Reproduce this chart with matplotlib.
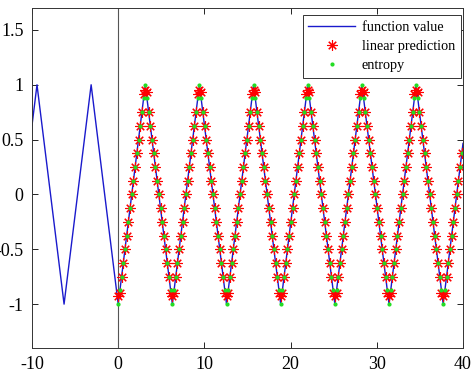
import numpy as np
import matplotlib
matplotlib.use("Agg")
import matplotlib.pyplot as plt

plt.rcParams['font.family'] = ['Liberation Serif', 'DejaVu Serif']
plt.rcParams['axes.unicode_minus'] = False

# left part: function value only (corner points of the triangle wave)
x_left = [-10, -9.42, -6.28, -3.14]
y_left = [0.63, 1.0, -1.0, 1.0]

step = np.pi / 16
y_right = [
    -1, -0.875, -0.75, -0.625, -0.5, -0.375, -0.25, -0.125, 0, 0.125, 0.25, 0.375, 0.5, 0.625, 0.75, 0.875,
    1, 0.875, 0.75, 0.625, 0.5, 0.375, 0.25, 0.125, 0, -0.125, -0.25, -0.375, -0.5, -0.625, -0.75, -0.875,
    -1, -0.875, -0.75, -0.625, -0.5, -0.375, -0.25, -0.125, 0, 0.125, 0.25, 0.375, 0.5, 0.625, 0.75, 0.875,
    1, 0.875, 0.75, 0.625, 0.5, 0.375, 0.25, 0.125, 0, -0.125, -0.25, -0.375, -0.5, -0.625, -0.75, -0.875,
    -1, -0.875, -0.75, -0.625, -0.5, -0.375, -0.25, -0.125, 0, 0.125, 0.25, 0.375, 0.5, 0.625, 0.75, 0.875,
    1, 0.875, 0.75, 0.625, 0.5, 0.375, 0.25, 0.125, 0, -0.125, -0.25, -0.375, -0.5, -0.625, -0.75, -0.875,
    -1, -0.875, -0.75, -0.625, -0.5, -0.375, -0.25, -0.125, 0, 0.125, 0.25, 0.375, 0.5, 0.625, 0.75, 0.875,
    1, 0.875, 0.75, 0.625, 0.5, 0.375, 0.25, 0.125, 0, -0.125, -0.25, -0.375, -0.5, -0.625, -0.75, -0.875,
    -1, -0.875, -0.75, -0.625, -0.5, -0.375, -0.25, -0.125, 0, 0.125, 0.25, 0.375, 0.5, 0.625, 0.75, 0.875,
    1, 0.875, 0.75, 0.625, 0.5, 0.375, 0.25, 0.125, 0, -0.125, -0.25, -0.375, -0.5, -0.625, -0.75, -0.875,
    -1, -0.875, -0.75, -0.625, -0.5, -0.375, -0.25, -0.125, 0, 0.125, 0.25, 0.375, 0.5, 0.625, 0.75, 0.875,
    1, 0.875, 0.75, 0.625, 0.5, 0.375, 0.25, 0.125, 0, -0.125, -0.25, -0.375, -0.5, -0.625, -0.75, -0.875,
    -1, -0.875, -0.75, -0.625, -0.5, -0.375, -0.25, -0.125, 0, 0.125, 0.25, 0.375,
]
x_end, y_end = 40, 0.465

# linear prediction undershoots near the extremes
peak_idx = [16, 48, 80, 112, 144, 176]
trough_idx = [0, 32, 64, 96, 128, 160, 192]
pred_peak = [0.92, 0.95, 0.93]
pred_trough = [-0.9, -0.93, -0.9]

x_right = np.arange(len(y_right)) * step
y_pred = np.array(y_right, dtype=float)
for p in peak_idx:
    for k, v in zip([-1, 0, 1], pred_peak):
        y_pred[p + k] = v
for t in trough_idx:
    for k, v in zip([-1, 0, 1], pred_trough):
        if 0 <= t + k < len(y_pred):
            y_pred[t + k] = v
y_entropy = np.array(y_right, dtype=float)

fig = plt.figure(figsize=(4.74, 3.75), dpi=100)
ax = fig.add_axes([32 / 474, 27 / 375, 431 / 474, 340 / 375])

ax.axvline(0, color='#555555', lw=0.8)
x_line = np.concatenate([x_left, x_right, [x_end]])
y_line = np.concatenate([y_left, y_right, [y_end]])
ax.plot(x_line, y_line, color='#1a1acc', lw=1, label='function value')
ax.plot(x_right, y_pred, ls='none', marker=(8, 2, 0), ms=7.5, mew=0.8,
        color='red', label='linear prediction')
ax.plot(x_right, y_entropy, ls='none', marker='.', ms=4,
        color='#22dd22', label='entropy')

ax.set_xlim(-10, 40)
ax.set_ylim(-1.4, 1.7)
ax.set_xticks([-10, 0, 10, 20, 30, 40])
ax.set_yticks([-1, -0.5, 0, 0.5, 1, 1.5])
ax.set_yticklabels(['-1', '-0.5', '0', '0.5', '1', '1.5'])
ax.tick_params(direction='in', top=True, right=True, length=4, width=0.6,
               labelsize=13, pad=6)
for s in ax.spines.values():
    s.set_linewidth(0.7)
    s.set_color('#333333')

leg = ax.legend(loc='upper right', bbox_to_anchor=(0.995, 0.979), borderaxespad=0,
                fontsize=10.3, handlelength=3.3, fancybox=False, framealpha=1,
                edgecolor='#333333', labelspacing=0.42, borderpad=0.4,
                handletextpad=0.45)
leg.get_frame().set_linewidth(0.7)

fig.savefig('out.png', dpi=100)
